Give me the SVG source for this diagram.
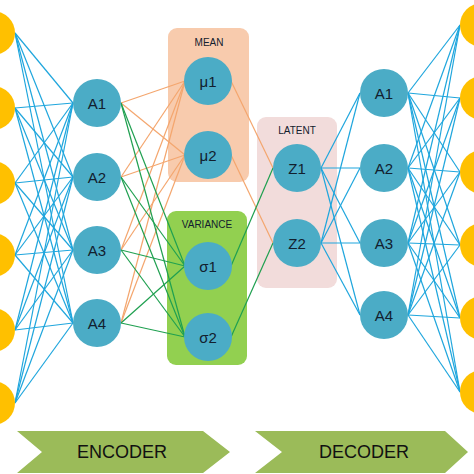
<svg xmlns="http://www.w3.org/2000/svg" width="474" height="474" viewBox="0 0 474 474">
<style>
.in{fill:#FFC000}
.n{fill:#4BACC6}
.t{font-family:"Liberation Sans",Arial,sans-serif;font-size:15px;fill:#12202e;text-anchor:middle;dominant-baseline:central}
.bt{font-family:"Liberation Sans",Arial,sans-serif;font-size:10px;fill:#12202e;text-anchor:middle;dominant-baseline:central}
.ct{font-family:"Liberation Sans",Arial,sans-serif;font-size:18px;fill:#111;text-anchor:middle;dominant-baseline:central}
.b line{stroke:#1FA6DD;stroke-width:1.2}
.o line{stroke:#F4A66E;stroke-width:1.2}
.g line{stroke:#1FA050;stroke-width:1.2}
</style>
<rect width="474" height="474" fill="#fff"/>
<g id="box-mean"><rect x="168" y="28" width="81" height="154" rx="9" fill="#F8CBAD"/><text class="bt" x="209" y="42">MEAN</text></g>
<g id="box-variance"><rect x="167" y="211" width="80" height="154" rx="9" fill="#92D050"/><text class="bt" x="207" y="224">VARIANCE</text></g>
<g id="box-latent"><rect x="257" y="117" width="80" height="171" rx="9" fill="#F2DCDB"/><text class="bt" x="297" y="130">LATENT</text></g>
<g id="connectors">
<g class="b">
<line x1="15" y1="33" x2="73" y2="103"/><line x1="15" y1="33" x2="73" y2="177"/><line x1="15" y1="33" x2="73" y2="250"/><line x1="15" y1="33" x2="73" y2="323"/>
<line x1="15" y1="108" x2="73" y2="103"/><line x1="15" y1="108" x2="73" y2="177"/><line x1="15" y1="108" x2="73" y2="250"/><line x1="15" y1="108" x2="73" y2="323"/>
<line x1="15" y1="183" x2="73" y2="103"/><line x1="15" y1="183" x2="73" y2="177"/><line x1="15" y1="183" x2="73" y2="250"/><line x1="15" y1="183" x2="73" y2="323"/>
<line x1="15" y1="255" x2="73" y2="103"/><line x1="15" y1="255" x2="73" y2="177"/><line x1="15" y1="255" x2="73" y2="250"/><line x1="15" y1="255" x2="73" y2="323"/>
<line x1="15" y1="330" x2="73" y2="103"/><line x1="15" y1="330" x2="73" y2="177"/><line x1="15" y1="330" x2="73" y2="250"/><line x1="15" y1="330" x2="73" y2="323"/>
<line x1="15" y1="403" x2="73" y2="103"/><line x1="15" y1="403" x2="73" y2="177"/><line x1="15" y1="403" x2="73" y2="250"/><line x1="15" y1="403" x2="73" y2="323"/>
<line x1="321" y1="168" x2="360" y2="93"/><line x1="321" y1="168" x2="360" y2="168"/><line x1="321" y1="168" x2="360" y2="243"/><line x1="321" y1="168" x2="360" y2="315"/>
<line x1="321" y1="243" x2="360" y2="93"/><line x1="321" y1="243" x2="360" y2="168"/><line x1="321" y1="243" x2="360" y2="243"/><line x1="321" y1="243" x2="360" y2="315"/>
<line x1="408" y1="93" x2="460" y2="25"/><line x1="408" y1="93" x2="460" y2="98"/><line x1="408" y1="93" x2="460" y2="172"/><line x1="408" y1="93" x2="460" y2="245"/><line x1="408" y1="93" x2="460" y2="318"/><line x1="408" y1="93" x2="460" y2="392"/>
<line x1="408" y1="168" x2="460" y2="25"/><line x1="408" y1="168" x2="460" y2="98"/><line x1="408" y1="168" x2="460" y2="172"/><line x1="408" y1="168" x2="460" y2="245"/><line x1="408" y1="168" x2="460" y2="318"/><line x1="408" y1="168" x2="460" y2="392"/>
<line x1="408" y1="243" x2="460" y2="25"/><line x1="408" y1="243" x2="460" y2="98"/><line x1="408" y1="243" x2="460" y2="172"/><line x1="408" y1="243" x2="460" y2="245"/><line x1="408" y1="243" x2="460" y2="318"/><line x1="408" y1="243" x2="460" y2="392"/>
<line x1="408" y1="315" x2="460" y2="25"/><line x1="408" y1="315" x2="460" y2="98"/><line x1="408" y1="315" x2="460" y2="172"/><line x1="408" y1="315" x2="460" y2="245"/><line x1="408" y1="315" x2="460" y2="318"/><line x1="408" y1="315" x2="460" y2="392"/>
</g>
<g class="o">
<line x1="121" y1="103" x2="185" y2="81"/><line x1="121" y1="103" x2="185" y2="155"/>
<line x1="121" y1="177" x2="185" y2="81"/><line x1="121" y1="177" x2="185" y2="155"/>
<line x1="121" y1="250" x2="185" y2="81"/><line x1="121" y1="250" x2="185" y2="155"/>
<line x1="121" y1="323" x2="185" y2="81"/><line x1="121" y1="323" x2="185" y2="155"/>
<line x1="231" y1="81" x2="273" y2="168"/><line x1="231" y1="155" x2="273" y2="243"/>
</g>
<g class="g">
<line x1="121" y1="103" x2="185" y2="266"/><line x1="121" y1="103" x2="185" y2="337"/>
<line x1="121" y1="177" x2="185" y2="266"/><line x1="121" y1="177" x2="185" y2="337"/>
<line x1="121" y1="250" x2="185" y2="266"/><line x1="121" y1="250" x2="185" y2="337"/>
<line x1="121" y1="323" x2="185" y2="266"/><line x1="121" y1="323" x2="185" y2="337"/>
<line x1="231" y1="266" x2="273" y2="168"/><line x1="231" y1="337" x2="273" y2="243"/>
</g>
</g>
<g id="in1"><circle class="in" cx="-7" cy="33" r="22"/></g>
<g id="in2"><circle class="in" cx="-7" cy="108" r="22"/></g>
<g id="in3"><circle class="in" cx="-7" cy="183" r="22"/></g>
<g id="in4"><circle class="in" cx="-7" cy="255" r="22"/></g>
<g id="in5"><circle class="in" cx="-7" cy="330" r="22"/></g>
<g id="in6"><circle class="in" cx="-7" cy="403" r="22"/></g>
<g id="enc-a1"><circle class="n" cx="97" cy="103" r="24"/><text class="t" x="97" y="103">A1</text></g>
<g id="enc-a2"><circle class="n" cx="97" cy="177" r="24"/><text class="t" x="97" y="177">A2</text></g>
<g id="enc-a3"><circle class="n" cx="97" cy="250" r="24"/><text class="t" x="97" y="250">A3</text></g>
<g id="enc-a4"><circle class="n" cx="97" cy="323" r="24"/><text class="t" x="97" y="323">A4</text></g>
<g id="mu1"><circle class="n" cx="208" cy="81" r="24"/><text class="t" x="208" y="81">μ1</text></g>
<g id="mu2"><circle class="n" cx="208" cy="155" r="24"/><text class="t" x="208" y="155">μ2</text></g>
<g id="sigma1"><circle class="n" cx="208" cy="266" r="24"/><text class="t" x="208" y="266">σ1</text></g>
<g id="sigma2"><circle class="n" cx="208" cy="337" r="24"/><text class="t" x="208" y="337">σ2</text></g>
<g id="z1"><circle class="n" cx="297" cy="168" r="24"/><text class="t" x="297" y="168">Z1</text></g>
<g id="z2"><circle class="n" cx="297" cy="243" r="24"/><text class="t" x="297" y="243">Z2</text></g>
<g id="dec-a1"><circle class="n" cx="384" cy="93" r="24"/><text class="t" x="384" y="93">A1</text></g>
<g id="dec-a2"><circle class="n" cx="384" cy="168" r="24"/><text class="t" x="384" y="168">A2</text></g>
<g id="dec-a3"><circle class="n" cx="384" cy="243" r="24"/><text class="t" x="384" y="243">A3</text></g>
<g id="dec-a4"><circle class="n" cx="384" cy="315" r="24"/><text class="t" x="384" y="315">A4</text></g>
<g id="out1"><circle class="in" cx="482" cy="25" r="22"/></g>
<g id="out2"><circle class="in" cx="482" cy="98" r="22"/></g>
<g id="out3"><circle class="in" cx="482" cy="172" r="22"/></g>
<g id="out4"><circle class="in" cx="482" cy="245" r="22"/></g>
<g id="out5"><circle class="in" cx="482" cy="318" r="22"/></g>
<g id="out6"><circle class="in" cx="482" cy="392" r="22"/></g>
<g id="encoder"><polygon points="17,431 203,431 230,452 203,473 17,473 42,452" fill="#9BBB59"/><text class="ct" x="122" y="452">ENCODER</text></g>
<g id="decoder"><polygon points="255,431 445,431 468,452 445,473 255,473 282,452" fill="#9BBB59"/><text class="ct" x="364" y="452">DECODER</text></g>
</svg>
